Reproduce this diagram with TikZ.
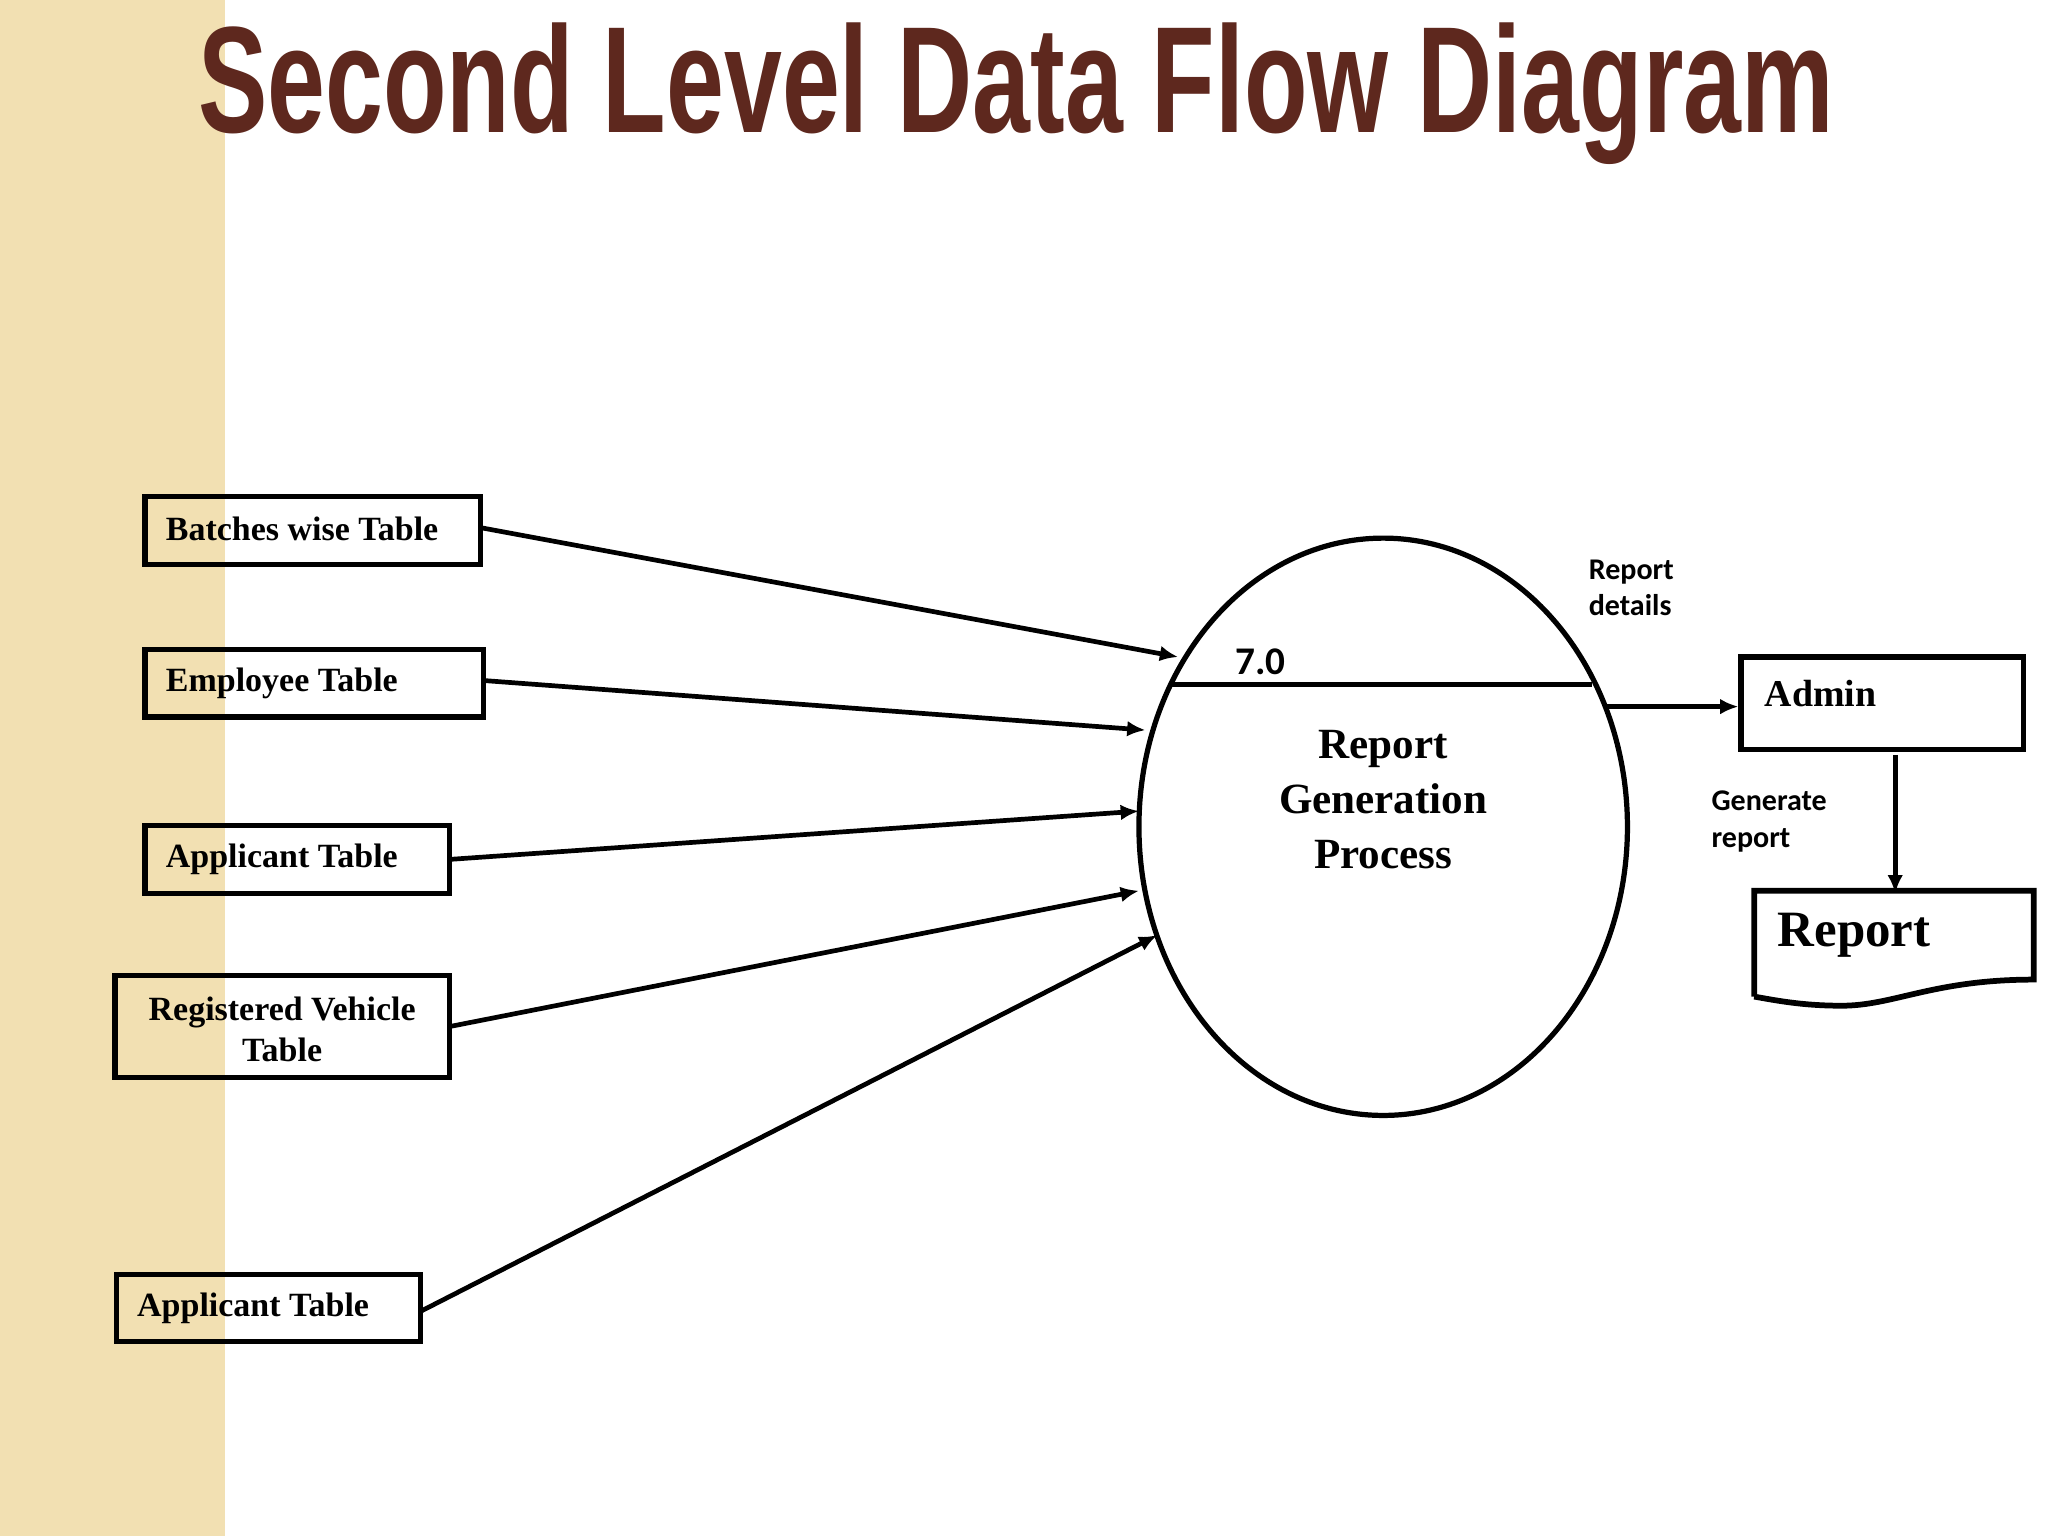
\documentclass[tikz,border=0pt]{standalone}
\usepackage{fontspec}
\setmainfont{Liberation Serif}
\newfontfamily\lab{Carlito}
\newfontfamily\ttl{Liberation Sans}
\usetikzlibrary{arrows.meta,shapes.geometric}
\definecolor{strip}{RGB}{242,224,178}
\definecolor{ttlc}{RGB}{94,40,30}
\begin{document}
\begin{tikzpicture}[x=0.5pt,y=-0.5pt,
  tb/.style={line width=2pt},
  tt/.style={font=\bfseries\fontsize{13}{14}\selectfont},
  flow/.style={line width=1.8pt,-{Latex[length=7pt,width=6pt]}},
  lbl/.style={font=\lab\bfseries\fontsize{11.5}{14}\selectfont,align=left,anchor=north west,inner sep=0}]
\useasboundingbox (0,0) rectangle (1568,1176);
\fill[white] (0,0) rectangle (1568,1176);
\fill[strip] (0,0) rectangle (172,1176);
\node[text=ttlc] (title) at (778,72)
  {\resizebox{626pt}{42pt}{\ttl\bfseries Second Level Data Flow Diagram}};
% tables
\draw[tb] (111,380) rectangle (368,432);
\node[anchor=west,tt] (t1) at (120,405) {Batches wise Table};
\coordinate (t1e) at (368,404);
\draw[tb] (111,497) rectangle (370,549);
\node[anchor=west,tt] (t2) at (120,523) {Employee Table};
\coordinate (t2e) at (370,521);
\draw[tb] (111,632) rectangle (344,684);
\node[anchor=west,tt] (t3) at (120,658) {Applicant Table};
\coordinate (t3e) at (344,658);
\draw[tb] (88,747) rectangle (344,825);
\node[align=center,font=\bfseries\fontsize{13}{15.5}\selectfont] (t4) at (216,788) {Registered Vehicle\\Table};
\coordinate (t4e) at (344,786);
\draw[tb] (89,976) rectangle (322,1027);
\node[anchor=west,tt] (t5) at (98,1002) {Applicant Table};
\coordinate (t5e) at (322,1004);
% process
\draw[tb] (1059,633) ellipse [x radius=187, y radius=221];
\draw[tb] (897,524) -- (1219,524);
\node[font=\lab\bfseries\fontsize{15}{16}\selectfont] (num) at (965,507) {7.0};
\node[align=center,font=\bfseries\fontsize{16.5}{21}\selectfont] (p) at (1059,612) {Report\\Generation\\Process};
\coordinate (i1) at (902,503);
\coordinate (i2) at (877,559);
\coordinate (i3) at (872,621);
\coordinate (i4) at (872,682);
\coordinate (i5) at (886,716);
\draw[flow] (t1e) -- (i1);
\draw[flow] (t2e) -- (i2);
\draw[flow] (t3e) -- (i3);
\draw[flow] (t4e) -- (i4);
\draw[flow] (t5e) -- (i5);
\node[lbl] (rd) at (1216,428) {Report\\details};
% admin
\draw[tb] (1333,503) rectangle (1549,574);
\node[anchor=west,font=\bfseries\fontsize{14.5}{16}\selectfont] (adm) at (1344,531) {Admin};
\coordinate (o1) at (1230,541);
\coordinate (a1) at (1331,541);
\draw[flow] (o1) -- (a1);
\node[lbl] (gr) at (1310,605) {Generate\\report};
% report document
\draw[line width=2.2pt] (1343,763) -- (1343,682) -- (1557,682) -- (1557,750)
  .. controls (1480,750) and (1450,770) .. (1410,770)
  .. controls (1380,770) and (1360,766) .. (1343,763);
\node[anchor=west,font=\bfseries\fontsize{19.5}{21}\selectfont] (rep) at (1354,716) {Report};
\coordinate (a2) at (1451,578);
\coordinate (r1) at (1451,684);
\draw[flow] (a2) -- (r1);
\end{tikzpicture}
\end{document}
